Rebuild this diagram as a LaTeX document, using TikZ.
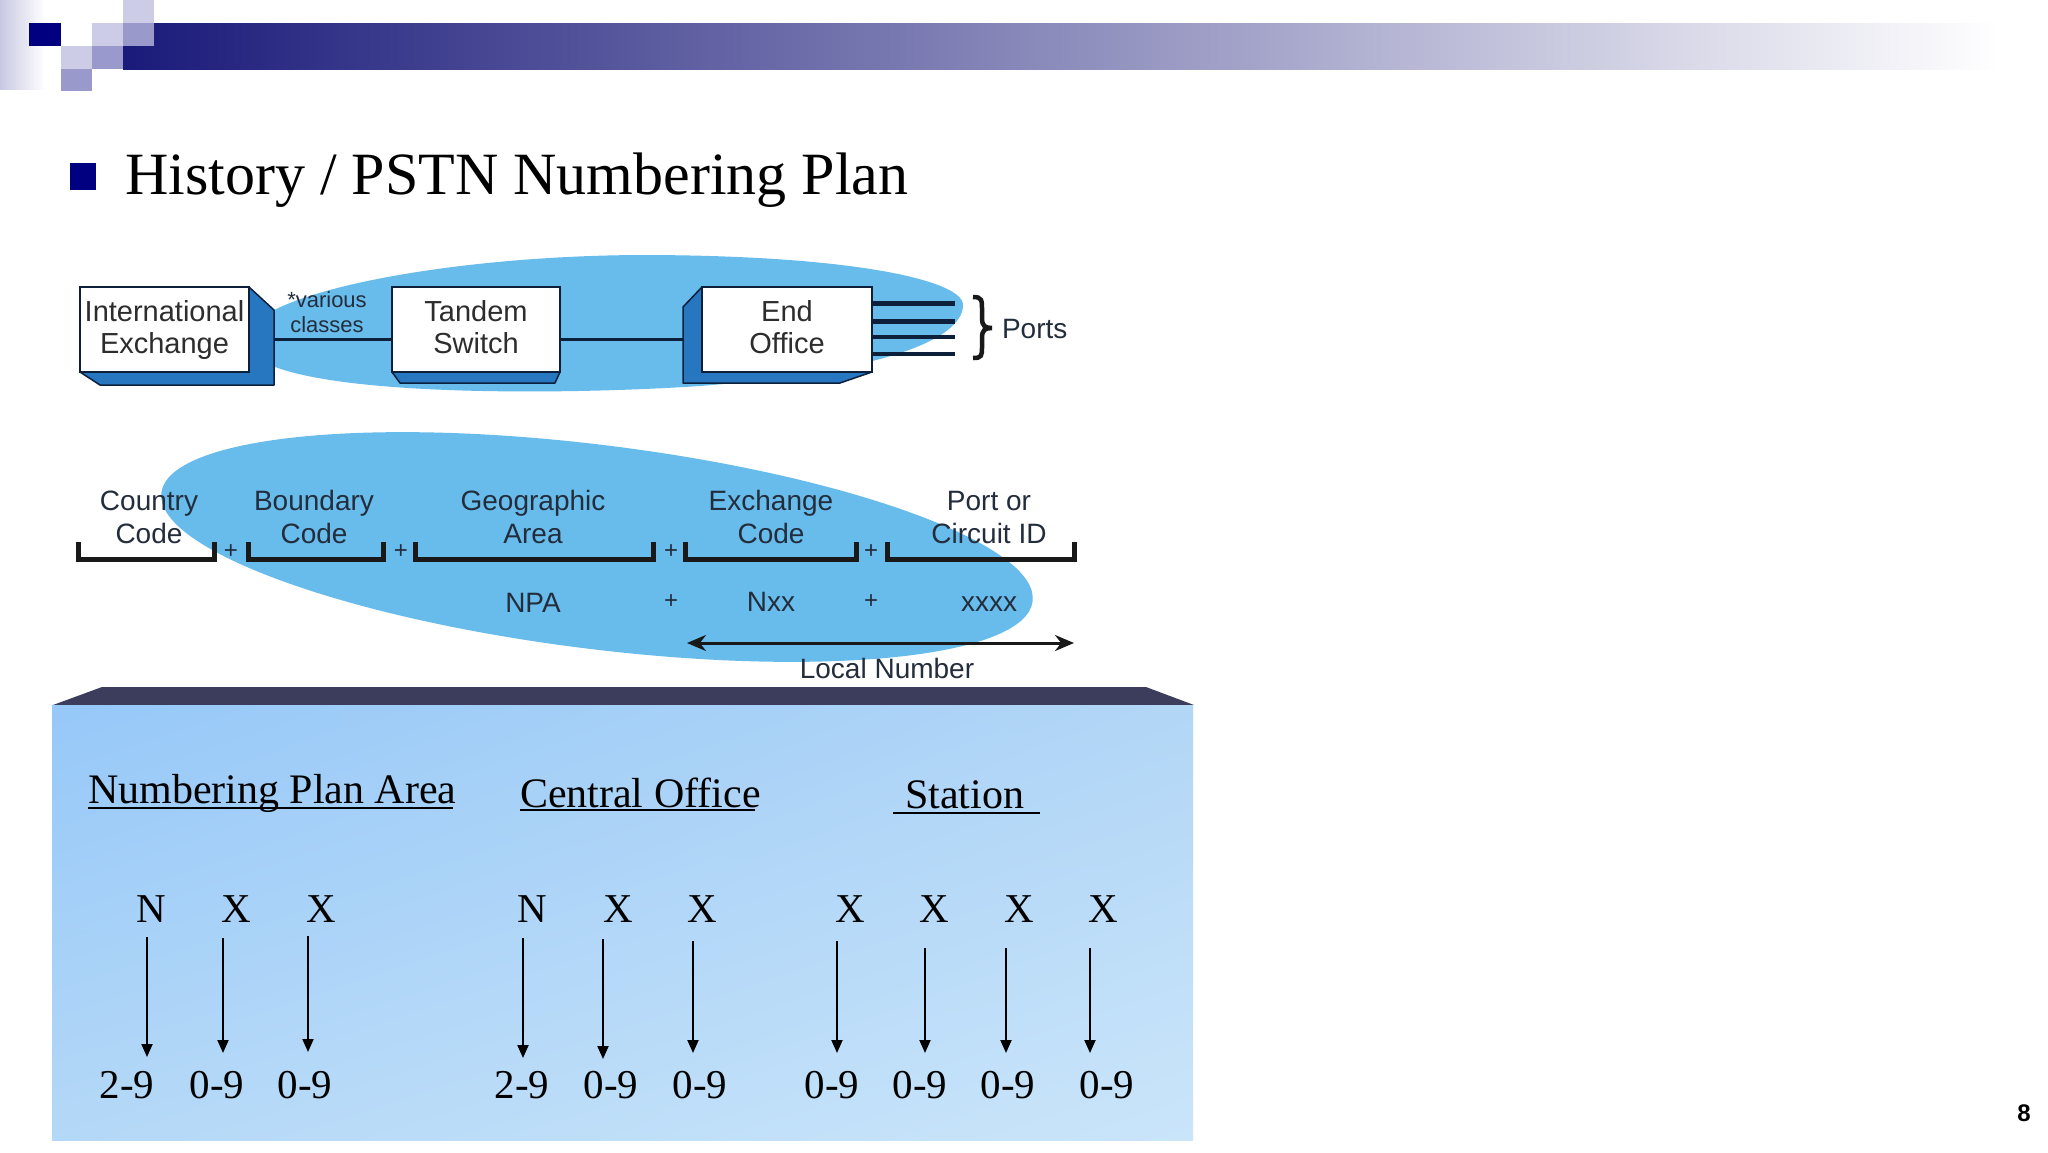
\documentclass[tikz,border=0pt]{standalone}
\usepackage{fontspec}
\setmainfont{Liberation Serif}
\newfontfamily\sansf{Liberation Sans}
\usetikzlibrary{arrows.meta,shadings}
\pgfdeclarelayer{bg}
\pgfsetlayers{bg,main}
\newcommand{\setfs}[1]{\fontsize{#1}{#1}\selectfont}
\definecolor{hdrnavy}{RGB}{0,0,128}
\definecolor{hdrdark}{RGB}{26,26,122}
\definecolor{hdrmid}{RGB}{165,165,198}
\definecolor{hdrcol}{RGB}{200,200,228}
\definecolor{sqlight}{RGB}{204,204,230}
\definecolor{sqmed}{RGB}{153,153,204}
\definecolor{blobblue}{RGB}{104,188,236}
\definecolor{sideblue}{RGB}{38,118,192}
\definecolor{edgenavy}{RGB}{12,32,60}
\definecolor{lbltext}{RGB}{35,45,60}
\definecolor{boxtext}{RGB}{45,45,45}
\definecolor{bandcol}{RGB}{60,60,92}
\definecolor{pUL}{RGB}{150,200,248}
\definecolor{pUR}{RGB}{178,214,246}
\definecolor{pLL}{RGB}{180,216,247}
\definecolor{pLR}{RGB}{202,229,250}
\tikzset{
  boxfront/.style={draw=edgenavy, line width=1.5pt, fill=white, minimum height=85pt,
    align=center, text=boxtext, font={\sansf\fontsize{29}{32}\selectfont}},
  side/.style={fill=sideblue, draw=edgenavy, line width=1.5pt, line join=round},
  conn/.style={draw=edgenavy, line width=3.5pt},
  brk/.style={draw=black!90, line width=5pt, line cap=butt, line join=miter},
  midlbl/.style={font={\sansf\setfs{28}}, text=lbltext, anchor=base},
  plus/.style={font={\sansf\setfs{24}}, text=lbltext},
  hd/.style={font={\setfs{42}}, anchor=base west},
  uline/.style={line width=1.8pt},
  dig/.style={font={\setfs{41}}, anchor=base},
  darr/.style={line width=2pt, -{Triangle[length=13pt,width=11pt]}},
  lnarr/.style={line width=3pt, {Stealth[length=19pt,width=16pt]}-{Stealth[length=19pt,width=16pt]}}
}
\begin{document}
\begin{tikzpicture}[x=1pt, y=-1pt, every node/.style={inner sep=0pt, outer sep=0pt}]
\useasboundingbox (0,0) rectangle (2048,1152);
\begin{pgfonlayer}{bg}
\fill[white] (0,0) rectangle (2048,1152);
\end{pgfonlayer}

% ---- header ----
\shade[left color=hdrcol, right color=white] (0,0) rectangle (45,89);
\shade[left color=hdrdark, middle color=hdrmid, right color=white] (123,23) rectangle (2000,69);
\fill[hdrnavy] (29,23) rectangle (61,46);
\fill[sqlight] (91.5,23) rectangle (123,46);
\fill[sqlight] (123,0) rectangle (154,23);
\fill[sqmed] (123,23) rectangle (154,46);
\fill[sqlight] (61,46) rectangle (91.5,68.5);
\fill[sqmed] (91.5,46) rectangle (123,68.5);
\fill[sqmed] (61,68.5) rectangle (91.5,91);

% ---- title ----
\fill[hdrnavy] (70,163) rectangle (96,190);
\node[anchor=base west, font={\setfs{60}}] (title) at (125,194) {History / PSTN Numbering Plan};

% ---- top diagram ----
\node[boxfront, minimum width=169pt] (ie) at (164.5,329.5) {International\\Exchange\vphantom{g}};
\node[boxfront, minimum width=168pt] (ts) at (476,329.5) {Tandem\\Switch\vphantom{g}};
\node[boxfront, minimum width=170pt] (eo) at (787,329.5) {End\\Office\vphantom{g}};
\begin{pgfonlayer}{bg}
\fill[blobblue] (245,340) .. controls (245,295) and (440,256) .. (640,255)
  .. controls (850,255) and (963,280) .. (963,305)
  .. controls (963,340) and (880,372) .. (700,386)
  .. controls (550,396) and (245,398) .. (245,340) -- cycle;
\draw[side] (ie.north east) -- ++(25,23) -- ([shift={(25,13)}]ie.south east)
  -- ([shift={(20,13)}]ie.south west) -- (ie.south west) -- cycle;
\draw[side] (ts.south west) -- ++(8,11) -- ([shift={(-5,11)}]ts.south east) -- (ts.south east) -- cycle;
\draw[side] (eo.north west) -- ++(-19,20) -- ([shift={(-19,11)}]eo.south west)
  -- ([shift={(-32,11)}]eo.south east) -- (eo.south east) -- cycle;
\end{pgfonlayer}
\draw[conn] ([shift={(25,10)}]ie.east) -- ([yshift=-10pt]ts.west);
\draw[conn] ([yshift=-10pt]ts.east) -- ([shift={(-19,10)}]eo.west);
\node[font={\sansf\setfs{22}}, text=lbltext, anchor=base] (vc1) at (327,307) {*various};
\node[font={\sansf\setfs{22}}, text=lbltext, anchor=base] (vc2) at (327,332) {classes};
\coordinate (pe1) at (955,303);
\coordinate (pe2) at (955,321);
\coordinate (pe3) at (955,337);
\coordinate (pe4) at (955,354);
\draw[conn, line width=5pt] (eo.east |- pe1) -- (pe1);
\draw[conn, line width=5pt] (eo.east |- pe2) -- (pe2);
\draw[conn, line width=3.5pt] (eo.east |- pe3) -- (pe3);
\draw[conn, line width=3.5pt] (eo.east |- pe4) -- (pe4);
\draw[line width=4.5pt, black!90] (973,297) .. controls (982,297) and (982,300) .. (982,310) -- (982,318)
  .. controls (982,326) and (985,328) .. (992,328) .. controls (985,328) and (982,330) .. (982,338)
  -- (982,346) .. controls (982,356) and (982,358) .. (973,358);
\node[font={\sansf\setfs{28}}, text=lbltext, anchor=base west] (ports) at (1002,338) {Ports};

% ---- middle diagram ----
\fill[blobblue, rotate around={-7.1:(597,547)}] (597,547) ellipse [x radius=439, y radius=102];
\node[midlbl] (cc1) at (149,510) {Country};
\node[midlbl] (cc2) at (149,543) {Code};
\node[midlbl] (bc1) at (314,510) {Boundary};
\node[midlbl] (bc2) at (314,543) {Code};
\node[midlbl] (ga1) at (533,510) {Geographic};
\node[midlbl] (ga2) at (533,543) {Area};
\node[midlbl] (ec1) at (771,510) {Exchange};
\node[midlbl] (ec2) at (771,543) {Code};
\node[midlbl] (pc1) at (989,510) {Port or};
\node[midlbl] (pc2) at (989,543) {Circuit ID};
\draw[brk] (78,542) -- (78,559) -- (214,559) -- (214,542);
\draw[brk] (248,542) -- (248,559) -- (383,559) -- (383,542);
\draw[brk] (415,542) -- (415,559) -- (653,559) -- (653,542);
\draw[brk] (685,542) -- (685,559) -- (856,559) -- (856,542);
\draw[brk] (887,542) -- (887,559) -- (1074,559) -- (1074,542);
\node[plus] (p1) at (231,552) {+};
\node[plus] (p2) at (401,552) {+};
\node[plus] (p3) at (671,552) {+};
\node[plus] (p4) at (871,552) {+};
\node[midlbl] (npa) at (533,612) {NPA};
\node[plus] (p5) at (671,602) {+};
\node[midlbl] (nxx) at (771,611) {Nxx};
\node[plus] (p6) at (871,602) {+};
\node[midlbl] (xxxx) at (989,611) {xxxx};
\coordinate (lnA) at (687,643);
\coordinate (lnB) at (1074,643);
\draw[lnarr, black!90] (lnA) -- (lnB);
\node[midlbl] (lnum) at (887,678) {Local Number};

% ---- bottom panel ----
\fill[bandcol] (53,705) -- (102,687) -- (1146,687) -- (1194,705) -- cycle;
\shade[upper left=pUL, upper right=pUR, lower left=pLL, lower right=pLR] (52,705) rectangle (1193,1140);
\node[hd] (hnpa) at (88,803) {Numbering Plan Area};
\draw[uline] ([yshift=-5pt]hnpa.base west) -- ([shift={(-4,5)}]hnpa.base east);
\node[hd] (hco) at (520,807) {Central Office};
\draw[uline] ([yshift=-3pt]hco.base west) -- ([shift={(-6,3)}]hco.base east);
\node[hd] (hst) at (905,808) {Station};
\draw[uline] ([shift={(-12,5)}]hst.base west) -- ([shift={(16,5)}]hst.base east);

\foreach \i/\lx/\L/\dx/\D/\ax/\ys/\ye in {
1/151/N/127/2-9/147/937/1057,
2/236/X/217/0-9/223/938/1053,
3/321/X/305/0-9/308/936/1052,
4/532/N/522/2-9/523/938/1058,
5/618/X/611/0-9/603/939/1059,
6/702/X/700/0-9/693/941/1053,
7/850/X/832/0-9/837/941/1053,
8/934/X/920/0-9/925/948/1053,
9/1019/X/1008/0-9/1006/948/1053,
10/1103/X/1107/0-9/1090/948/1053}{
  \node[dig] (l\i) at (\lx,922) {\L};
  \node[dig] (d\i) at (\dx,1098) {\D};
  \draw[darr] ([shift={(\ax-\lx,\ys-922)}]l\i.base) -- ([shift={(\ax-\dx,\ye-1098)}]d\i.base);
}

\node[font={\sansf\bfseries\setfs{24}}] (pg) at (2024,1113) {8};
\end{tikzpicture}
\end{document}
